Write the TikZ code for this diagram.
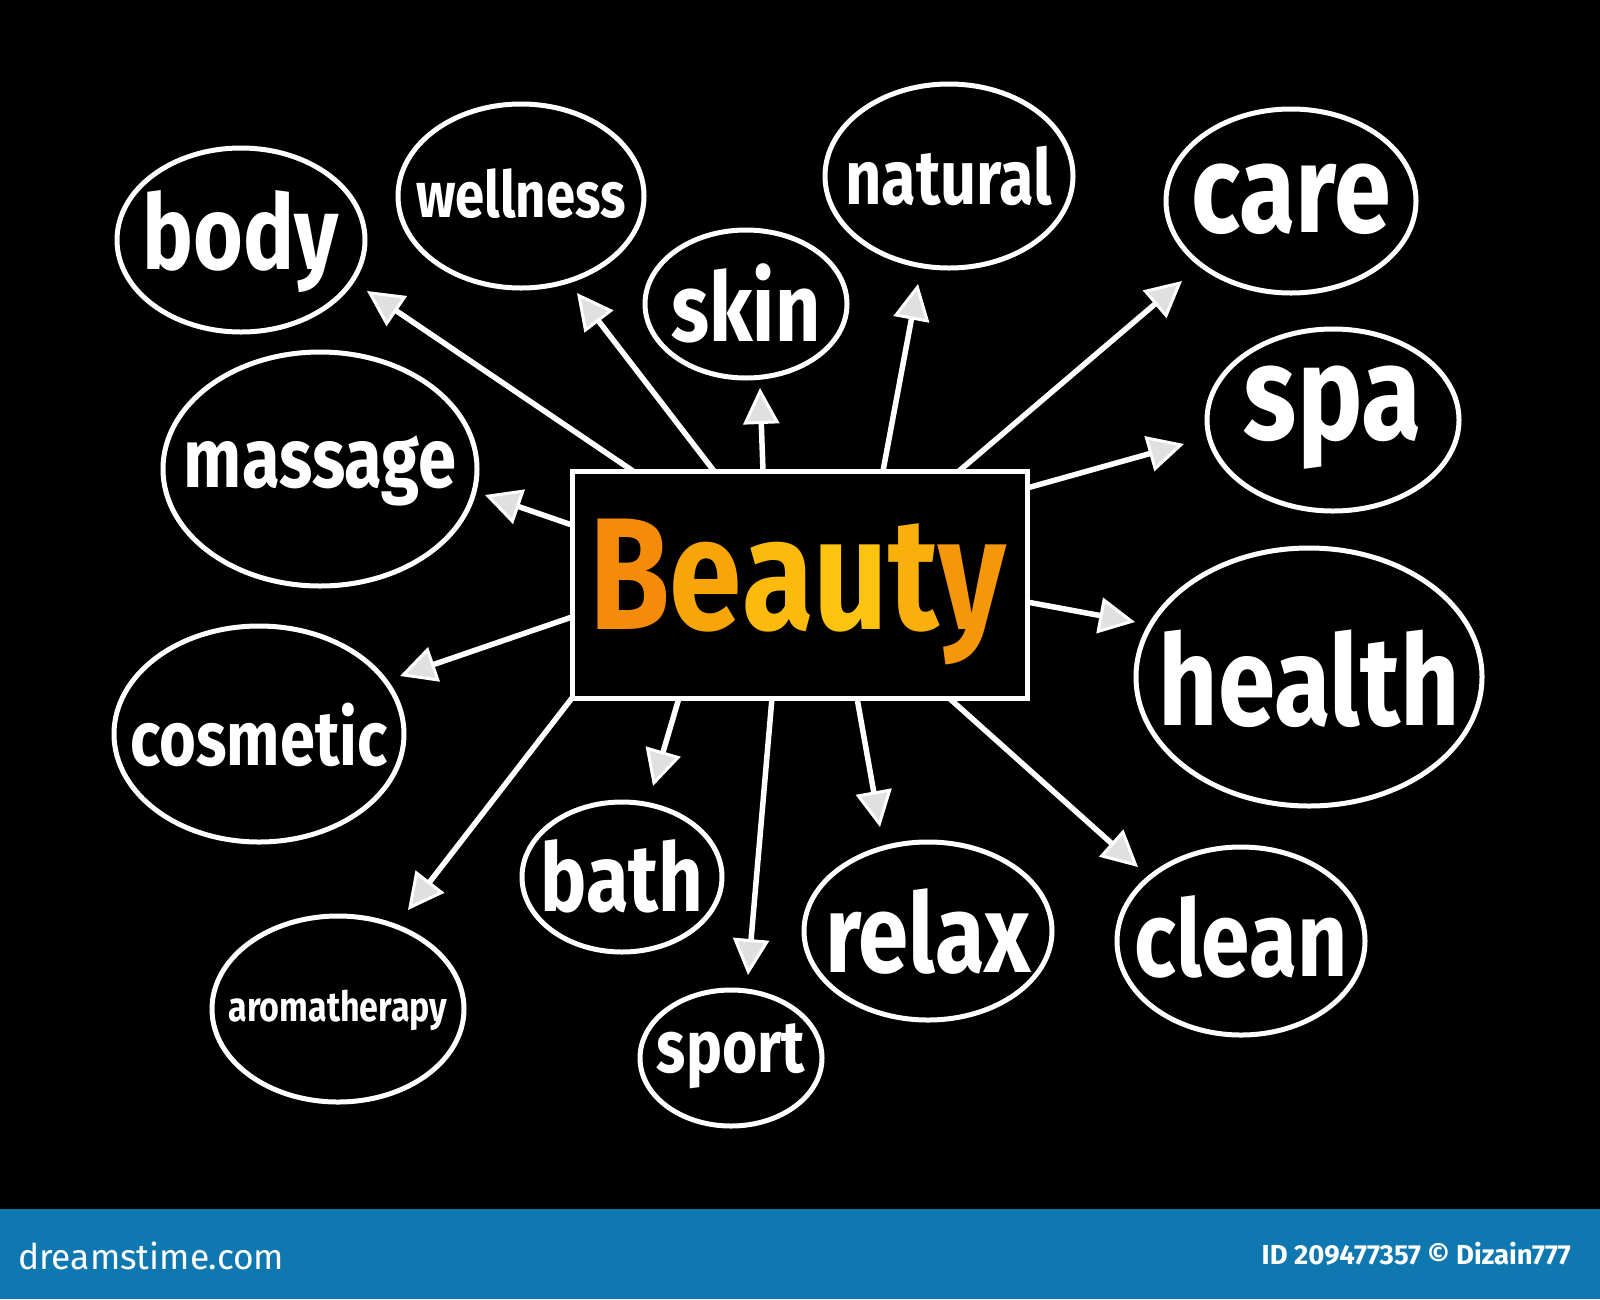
\documentclass[tikz,border=0pt]{standalone}
\usepackage{fontspec}
\setmainfont{Fira Sans}
\usetikzlibrary{arrows.meta,shapes.geometric}
\definecolor{barblue}{RGB}{15,120,176}
\definecolor{bA}{RGB}{244,140,10}
\definecolor{bB}{RGB}{248,165,10}
\definecolor{bC}{RGB}{251,186,12}
\definecolor{bD}{RGB}{252,196,14}
\definecolor{bE}{RGB}{250,176,12}
\definecolor{bF}{RGB}{246,150,10}
\newcommand\fitw[2]{\resizebox{#1pt}{!}{\scalebox{1}[1.22]{#2}}}
\tikzset{
  bub/.style={draw=white, line width=5pt, ellipse, inner sep=0pt},
  lbl/.style={text=white, font=\bfseries, inner sep=0pt},
  arr/.style={draw=white, line width=5.5pt,
    -{Triangle[length=36pt,width=36pt,fill=white!88!black,line width=3pt]}},
}
\begin{document}
\begin{tikzpicture}[x=1pt,y=-1pt]
\useasboundingbox (0,0) rectangle (1600,1299);
\fill[black] (0,0) rectangle (1600,1299);
\fill[barblue] (0,1209) rectangle (1600,1299);

% central box
\node[draw=white, line width=5pt, minimum width=455pt, minimum height=227pt, inner sep=0pt] (beauty) at (799.5,584.5) {};
\node[inner sep=0pt, font=\bfseries] (beautytxt) at (798,592) {\fitw{417}{\textcolor{bA}{B}\textcolor{bB}{e}\textcolor{bC}{a}\textcolor{bD}{u}\textcolor{bE}{t}\textcolor{bF}{y}}};

% bubbles
\foreach \n/\x/\y/\rx/\ry/\w/\ty/\t in {
  body/241/240/124/92/196/242/body,
  wellness/521/196/123/92/210/194/wellness,
  skin/746/304/101/74/149/303/skin,
  natural/949/176/124/92/207/176/natural,
  care/1291/201/125/92/199/199/care,
  spa/1333/420/126/91/178/418/spa,
  massage/320/469/157/117/272/471/massage,
  health/1309/677/173/129/301/679/health,
  cosmetic/259/734/145/108/257/735/cosmetic,
  bath/622/877/100/75/163/876/bath,
  relax/928/931/124/89/206/931/relax,
  clean/1241/941/124/94/213/937/clean,
  aroma/338/1009/126/93/219/1010/aromatherapy,
  sport/731/1058/91/68/148/1056/sport}{
  \node[bub, minimum width=2*\rx pt, minimum height=2*\ry pt] (\n) at (\x,\y) {};
  \node[lbl] (t-\n) at (\x,\ty) {\fitw{\w}{\t}};
}

% connectors
\foreach \n/\sx/\sy/\tx/\ty in {
  1/633/471/367/291,
  2/714/471/577/293,
  3/763/471/760/388,
  4/883/471/918/284,
  5/959/471/1182/281,
  6/1027/488/1184/444,
  7/572/525/485/495,
  8/1027/602/1135/622,
  9/572/617/400/676,
  10/572/698/408/910,
  11/679/698/653/786,
  12/772/698/748/975,
  13/857/698/880/827,
  14/949/698/1138/867}{
  \coordinate (s\n) at (\sx,\sy);
  \coordinate (e\n) at (\tx,\ty);
  \draw[arr] (s\n) -- (e\n);
}

% footer bar
\node[text=white, inner sep=0pt, anchor=west] (site) at (18,1256) {\resizebox{266pt}{!}{dreamstime.com}};
\node[text=white, inner sep=0pt, anchor=east, font=\bfseries] (id) at (1571,1254) {\resizebox{309pt}{!}{ID 209477357 © Dizain777}};
\end{tikzpicture}
\end{document}
